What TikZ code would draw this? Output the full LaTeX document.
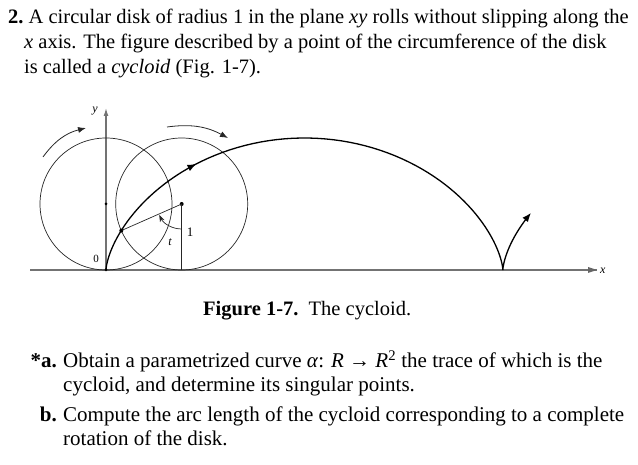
\documentclass[tikz,border=0pt]{standalone}
\usepackage{fontspec}
\setmainfont{Liberation Serif}
\usetikzlibrary{decorations.markings,arrows.meta}
\begin{document}
\begin{tikzpicture}[x=1pt,y=1pt,
  txt/.style={anchor=base west,inner sep=0pt,font=\fontsize{20.5}{24}\selectfont},
  itm/.style={anchor=base west,inner sep=0pt,font=\fontsize{21}{24}\selectfont},
  axis/.style={draw=black!55,line width=1.3pt},
  circ/.style={draw=black!85,line width=0.7pt},
  dot/.style={circle,fill=black,inner sep=0pt,minimum size=4pt},
  lbl/.style={inner sep=0pt,font=\fontsize{12}{12}\selectfont\itshape},
  tip/.style={-{Latex[length=8pt,width=6pt]}}]
\useasboundingbox (0,0) rectangle (638,464);
% text
\node[txt] (l1) at (8,440) {\textbf{2.}\ A circular disk of radius 1 in the plane \textit{xy} rolls without slipping along the};
\node[txt] (l2) at (24,415) {\textit{x} axis. The figure described by a point of the circumference of the disk};
\node[txt] (l3) at (24,390) {is called a \textit{cycloid} (Fig. 1-7).};
\node[txt] (cap) at (203,148) {\textbf{Figure 1-7.}\ \ The cycloid.};
\node[itm,anchor=base east] (a1) at (57,96) {\textbf{*a.}};
\node[itm] (a1t) at (63,96) {Obtain a parametrized curve \textit{α}: \textit{R} → \textit{R}\textsuperscript{2} the trace of which is the};
\node[itm] (a2) at (63,72) {cycloid, and determine its singular points.};
\node[itm,anchor=base east] (b1) at (57,42) {\textbf{b.}};
\node[itm] (b1t) at (63,42) {Compute the arc length of the cycloid corresponding to a complete};
\node[itm] (b2) at (63,18) {rotation of the disk.};
% axes
\coordinate (O) at (106,194);
\coordinate (xend) at (597,194);
\coordinate (yend) at (106,356);
\draw[axis] (30,194) -- (xend);
\draw[axis,-{Latex[length=8pt,width=5pt]}] (O) -- (yend);
\fill[black!60] (xend) -- ++(-9,3) -- ++(0,-6) -- cycle;
\node[lbl,anchor=west] (xl) at (600,193) {x};
\node[lbl] (yl) at (95,353) {y};
\node[lbl,font=\fontsize{11}{11}\selectfont] (zero) at (96,205) {0};
% circles
\coordinate (c1) at (106,260);
\coordinate (c2) at (181.7,260);
\draw[circ] (c1) circle (66);
\draw[circ] (c2) circle (66);
\node[dot,minimum size=3pt] (d1) at (c1) {};
\node[dot] (d2) at (c2) {};
\node[dot] (p) at (121.3,233.4) {};
\node[dot,minimum size=3pt] (o) at (O) {};
\draw[circ] (d2.center) -- (p.center);
\draw[circ] (d2.center) -- (181.7,194);
\draw[circ,-{Stealth[length=7pt,width=5pt]}] (c2) ++(270:25) arc (270:206:25);
\node[lbl] (tl) at (170,222) {t};
\node[lbl,font=\fontsize{13}{13}\selectfont\upshape] (one) at (190,232) {1};
% rotation arrows
\draw[circ,line width=0.8pt,tip] (43,307) to[bend left=20] (86,336);
\draw[circ,line width=0.8pt,tip] (167,337) to[bend left=18] (228,326);
% cycloid
\draw[line width=1.3pt,-{Latex[length=9pt,width=7pt]},
  postaction={decorate},
  decoration={markings,mark=at position 0.25 with {\arrow{Latex[length=9pt,width=7pt]}}}]
  plot[domain=0:7.72,samples=120,variable=\u]
  ({106+0.957*66*(\u-sin(deg(\u)))},{194+66*(1-cos(deg(\u)))});
\end{tikzpicture}
\end{document}
